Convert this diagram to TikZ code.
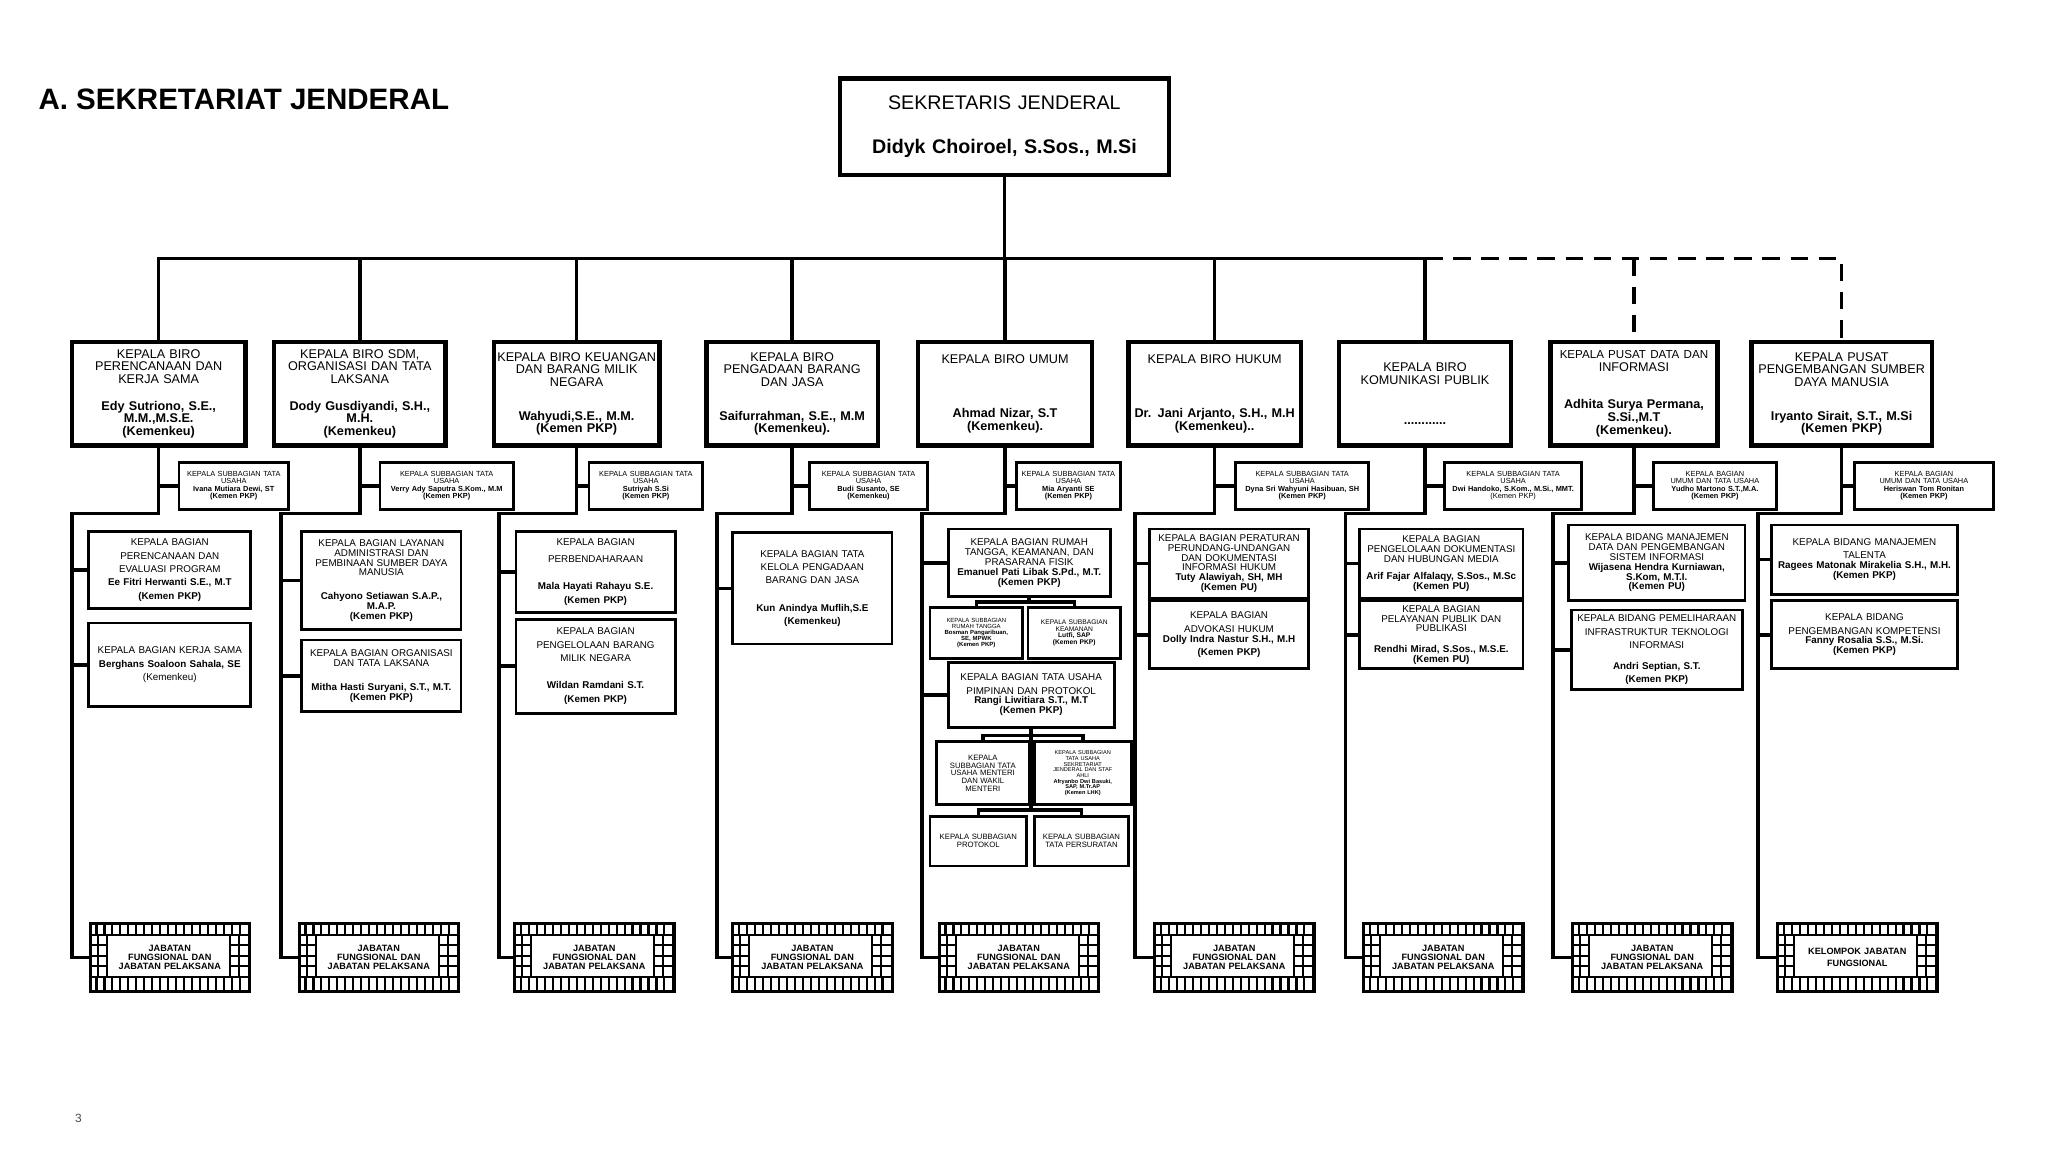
\documentclass[tikz,border=0pt]{standalone}
\usepackage{fontspec}
\setmainfont{Liberation Sans}
\usetikzlibrary{calc}

\newcommand{\px}{0.013061cm}
% box from two corners: [style]{name}{x1}{y1}{x2}{y2}{text}
\newcommand{\bx}[7][]{%
  \pgfmathsetmacro{\bxw}{#5-#3}\pgfmathsetmacro{\bxh}{#6-#4}%
  \pgfmathsetlengthmacro{\bxt}{(#5-#3)*\px-2pt}%
  \node[#1, minimum width=\bxw*\px, minimum height=\bxh*\px, text width=\bxt]
    (#2) at ({(#3+#5)/2},{(#4+#6)/2}) {#7};}
\newcommand{\fs}[1]{\fontsize{#1}{#1}\selectfont}

\tikzset{
  box/.style={draw, line width=0.8pt, inner sep=0pt, align=center, font=\fs{2.8}},
  biro/.style={box, line width=1.25pt, font=\fs{3.6}},
  tu/.style={box, font=\fs{2.1}},
  sub/.style={box, font=\fs{2.2}},
  conn/.style={line width=1pt},
  jab/.style={box, font=\bfseries\fs{2.6}, line width=0.9pt},
  grid/.style={line width=0.6pt},
}

\begin{document}
\begin{tikzpicture}[x=\px, y=-\px]
\useasboundingbox[fill=white] (0,0) rectangle (1568,882);

\node[anchor=west, font=\bfseries\fs{8.4}] (title) at (20,76) {A. SEKRETARIAT JENDERAL};
\node[font=\fs{3.4}, text=black!70] (page) at (60,856) {3};

\bx[biro, font=\fs{5.6}]{sj}{643}{60}{895}{134}{SEKRETARIS JENDERAL\\[7pt]\textbf{Didyk Choiroel, S.Sos., M.Si}}

% biro
\bx[biro]{b1}{55}{262}{188}{341}{KEPALA BIRO\\PERENCANAAN DAN\\KERJA SAMA\\[4pt]\textbf{Edy Sutriono, S.E.,\\M.M.,M.S.E.\\(Kemenkeu)}}
\bx[biro]{b2}{210}{262}{341}{341}{KEPALA BIRO SDM,\\ORGANISASI DAN TATA\\LAKSANA\\[4pt]\textbf{Dody Gusdiyandi, S.H.,\\M.H.\\(Kemenkeu)}}
\bx[biro]{b3}{378}{262}{505}{341}{KEPALA BIRO KEUANGAN\\DAN BARANG MILIK\\NEGARA\\[6pt]\textbf{Wahyudi,S.E., M.M.\\(Kemen PKP)}}
\bx[biro]{b4}{541}{262}{672}{341}{KEPALA BIRO\\PENGADAAN BARANG\\DAN JASA\\[6pt]\textbf{Saifurrahman, S.E., M.M\\(Kemenkeu).}}
\bx[biro]{b5}{703}{262}{836}{341}{KEPALA BIRO UMUM\\[12pt]\textbf{Ahmad Nizar, S.T\\(Kemenkeu).}}
\bx[biro]{b6}{864}{262}{996}{341}{KEPALA BIRO HUKUM\\[12pt]\textbf{Dr. Jani Arjanto, S.H., M.H\\(Kemenkeu)..}}
\bx[biro]{b7}{1025}{262}{1157}{341}{KEPALA BIRO\\KOMUNIKASI PUBLIK\\[8pt]\textbf{............}}
\bx[biro]{b8}{1187}{262}{1315}{341}{{\fs{3.3}KEPALA PUSAT DATA DAN}\\INFORMASI\\[7pt]\textbf{Adhita Surya Permana,\\S.Si.,M.T\\(Kemenkeu).}}
\bx[biro]{b9}{1341}{262}{1479}{341}{KEPALA PUSAT\\PENGEMBANGAN SUMBER\\DAYA MANUSIA\\[6pt]\textbf{Iryanto Sirait, S.T., M.Si\\(Kemen PKP)}}

% subbagian tata usaha
\bx[tu]{t1}{137}{354}{221}{390}{KEPALA SUBBAGIAN TATA\\USAHA\\\textbf{Ivana Mutiara Dewi, ST\\(Kemen PKP)}}
\bx[tu]{t2}{291}{354}{393}{390}{KEPALA SUBBAGIAN TATA\\USAHA\\\textbf{Verry Ady Saputra S.Kom., M.M\\(Kemen PKP)}}
\bx[tu]{t3}{451}{354}{538}{390}{KEPALA SUBBAGIAN TATA\\USAHA\\\textbf{Sutriyah S.Si\\(Kemen PKP)}}
\bx[tu]{t4}{620}{354}{710}{390}{KEPALA SUBBAGIAN TATA\\USAHA\\\textbf{Budi Susanto, SE\\(Kemenkeu)}}
\bx[tu]{t5}{778}{354}{858}{390}{KEPALA SUBBAGIAN TATA\\USAHA\\\textbf{Mia Aryanti SE\\(Kemen PKP)}}
\bx[tu]{t6}{946}{354}{1048}{390}{KEPALA SUBBAGIAN TATA\\USAHA\\\textbf{Dyna Sri Wahyuni Hasibuan, SH\\(Kemen PKP)}}
\bx[tu]{t7}{1106}{354}{1211}{390}{KEPALA SUBBAGIAN TATA\\USAHA\\\textbf{Dwi Handoko, S.Kom., M.Si., MMT.}\\(Kemen PKP)}
\bx[tu]{t8}{1266}{354}{1360}{390}{KEPALA BAGIAN\\UMUM DAN TATA USAHA\\\textbf{Yudho Martono S.T.,M.A.\\(Kemen PKP)}}
\bx[tu]{t9}{1420}{354}{1526}{390}{KEPALA BAGIAN\\UMUM DAN TATA USAHA\\\textbf{Heriswan Tom Ronitan\\(Kemen PKP)}}

% bagian / bidang
\bx[box]{g1a}{68}{407}{192}{466}{KEPALA BAGIAN\\[1pt]PERENCANAAN DAN\\[1pt]EVALUASI PROGRAM\\[1pt]\textbf{Ee Fitri Herwanti S.E., M.T\\[1pt](Kemen PKP)}}
\bx[box]{g1b}{68}{477}{192}{541}{KEPALA BAGIAN KERJA SAMA\\[1pt]\textbf{Berghans Soaloon Sahala, SE}\\[1pt](Kemenkeu)}
\bx[box]{g2a}{231}{407}{353}{482}{KEPALA BAGIAN LAYANAN\\ADMINISTRASI DAN\\PEMBINAAN SUMBER DAYA\\MANUSIA\\[4pt]\textbf{Cahyono Setiawan S.A.P.,\\M.A.P.\\(Kemen PKP)}}
\bx[box]{g2b}{231}{490}{353}{545}{KEPALA BAGIAN ORGANISASI\\DAN TATA LAKSANA\\[4pt]\textbf{Mitha Hasti Suryani, S.T., M.T.\\(Kemen PKP)}}
\bx[box]{g3a}{395}{407}{517}{469}{KEPALA BAGIAN\\[2pt]PERBENDAHARAAN\\[5pt]\textbf{Mala Hayati Rahayu S.E.\\[1pt](Kemen PKP)}}
\bx[box]{g3b}{395}{474}{517}{546}{KEPALA BAGIAN\\[1pt]PENGELOLAAN BARANG\\[1pt]MILIK NEGARA\\[5pt]\textbf{Wildan Ramdani S.T.\\[1pt](Kemen PKP)}}
\bx[box]{g4a}{561}{408}{683}{493}{KEPALA BAGIAN TATA\\[1pt]KELOLA PENGADAAN\\[1pt]BARANG DAN JASA\\[5pt]\textbf{Kun Anindya Muflih,S.E\\[1pt](Kemenkeu)}}
\bx[box]{g5a}{726}{405}{850}{457}{KEPALA BAGIAN RUMAH\\TANGGA, KEAMANAN, DAN\\PRASARANA FISIK\\\textbf{Emanuel Pati Libak S.Pd., M.T.\\(Kemen PKP)}}
\bx[sub, font=\fs{1.7}]{s5a}{712}{465}{783}{504}{KEPALA SUBBAGIAN\\RUMAH TANGGA\\\textbf{Bosman Pangaribuan,\\SE, MPWK\\(Kemen PKP)}}
\bx[sub, font=\fs{1.9}]{s5b}{787}{465}{858}{504}{KEPALA SUBBAGIAN\\KEAMANAN\\\textbf{Lutfi, SAP\\(Kemen PKP)}}
\bx[box]{g5b}{726}{507}{853}{557}{KEPALA BAGIAN TATA USAHA\\[1pt]PIMPINAN DAN PROTOKOL\\\textbf{Rangi Liwitiara S.T., M.T\\(Kemen PKP)}}
\bx[sub]{s5c}{717}{568}{788}{616}{KEPALA\\SUBBAGIAN TATA\\USAHA MENTERI\\DAN WAKIL\\MENTERI}
\bx[sub, font=\fs{1.6}]{s5d}{792}{568}{866}{616}{KEPALA SUBBAGIAN\\TATA USAHA\\SEKRETARIAT\\JENDERAL DAN STAF\\AHLI\\\textbf{Afryanbo Dwi Basuki,\\SAP, M.Tr.AP\\(Kemen LHK)}}
\bx[sub]{s5e}{712}{625}{786}{663}{KEPALA SUBBAGIAN\\PROTOKOL}
\bx[sub]{s5f}{792}{625}{864}{663}{KEPALA SUBBAGIAN\\TATA PERSURATAN}
\bx[box]{g6a}{880}{405}{1002}{458}{KEPALA BAGIAN PERATURAN\\PERUNDANG-UNDANGAN\\DAN DOKUMENTASI\\INFORMASI HUKUM\\\textbf{Tuty Alawiyah, SH, MH\\(Kemen PU)}}
\bx[box]{g6b}{880}{460}{1002}{512}{KEPALA BAGIAN\\[1pt]ADVOKASI HUKUM\\\textbf{Dolly Indra Nastur S.H., M.H\\[1pt](Kemen PKP)}}
\bx[box]{g7a}{1041}{405}{1166}{458}{KEPALA BAGIAN\\PENGELOLAAN DOKUMENTASI\\DAN HUBUNGAN MEDIA\\[2pt]\textbf{Arif Fajar Alfalaqy, S.Sos., M.Sc\\(Kemen PU)}}
\bx[box]{g7b}{1041}{460}{1166}{512}{KEPALA BAGIAN\\PELAYANAN PUBLIK DAN\\PUBLIKASI\\[3pt]\textbf{Rendhi Mirad, S.Sos., M.S.E.\\(Kemen PU)}}
\bx[box]{g8a}{1201}{402}{1336}{460}{KEPALA BIDANG MANAJEMEN\\DATA DAN PENGEMBANGAN\\SISTEM INFORMASI\\\textbf{Wijasena Hendra Kurniawan,\\S.Kom, M.T.I.\\(Kemen PU)}}
\bx[box]{g8b}{1203}{467}{1334}{528}{KEPALA BIDANG PEMELIHARAAN\\[1pt]INFRASTRUKTUR TEKNOLOGI\\[1pt]INFORMASI\\[3pt]\textbf{Andri Septian, S.T.\\[1pt](Kemen PKP)}}
\bx[box]{g9a}{1356}{402}{1499}{455}{KEPALA BIDANG MANAJEMEN\\[1pt]TALENTA\\\textbf{Ragees Matonak Mirakelia S.H., M.H.\\(Kemen PKP)}}
\bx[box]{g9b}{1356}{460}{1499}{512}{KEPALA BIDANG\\[1pt]PENGEMBANGAN KOMPETENSI\\\textbf{Fanny Rosalia S.S., M.Si.\\(Kemen PKP)}}

% jabatan fungsional
\foreach \i/\xa in {1/69,2/229,3/394,4/561,5/719,6/884,7/1044,8/1204}{
  \bx[jab]{j\i}{\xa}{707}{\xa+122}{759}{JABATAN\\FUNGSIONAL DAN\\JABATAN PELAKSANA}
}
\bx[jab]{j9}{1361}{707}{1483}{759}{KELOMPOK JABATAN\\[1pt]FUNGSIONAL}
\foreach \i in {1,...,9}{
  \begin{scope}[shift={(j\i.north west)}, grid]
    \foreach \k in {1,...,19} \draw (\k*6.1,0)--(\k*6.1,10) (\k*6.1,42)--(\k*6.1,52);
    \draw (0,10)--(122,10) (0,42)--(122,42);
    \draw (7,10)--(7,42) (14,10)--(14,42) (108,10)--(108,42) (115,10)--(115,42);
    \foreach \h in {18,26,34} \draw (0,\h)--(14,\h) (108,\h)--(122,\h);
  \end{scope}
}

% connectors
\coordinate (bus) at (769,198);
\draw[conn] (sj) -- (sj |- bus);
\draw[conn] (b1.north) -- (b1.north |- bus) -- (b7.north |- bus);
\foreach \i in {2,...,7} \draw[conn] (b\i.north) -- (b\i.north |- bus);
\draw[conn, dash pattern=on 5pt off 3pt] (b7.north |- bus) -- (b9.north |- bus) -- (b9.north);
\draw[conn, dash pattern=on 5pt off 3pt] (b8.north |- bus) -- (b8.north);

\foreach \i/\lx in {1/55,2/215,3/382,4/549,5/706,6/869,7/1030,8/1189,9/1346}{
  \coordinate (l\i) at (\lx,393);
  \draw[conn] (b\i.south) |- (t\i.west);
  \draw[conn] (b\i.south) |- (l\i) |- (j\i.west);
}
\foreach \n/\i in {g1a/1,g1b/1,g2a/2,g2b/2,g3a/3,g3b/3,g4a/4,g5a/5,g5b/5,g6a/6,g6b/6,g7a/7,g7b/7,g8a/8,g8b/8,g9a/9,g9b/9}
  \draw[conn] (l\i |- \n.west) -- (\n.west);

\coordinate (r5) at (788,461);
\draw[conn] (g5a.south) -- (r5);
\draw[conn] (s5a.north) |- (r5) -| (s5b.north);
\coordinate (p1) at (789.5,563);
\coordinate (p2) at (789.5,620);
\draw[conn] (g5b.south) -- (p2);
\draw[conn] (s5c.north) |- (p1) -| (s5d.north);
\draw[conn] (s5e.north) |- (p2) -| (s5f.north);

\end{tikzpicture}
\end{document}
